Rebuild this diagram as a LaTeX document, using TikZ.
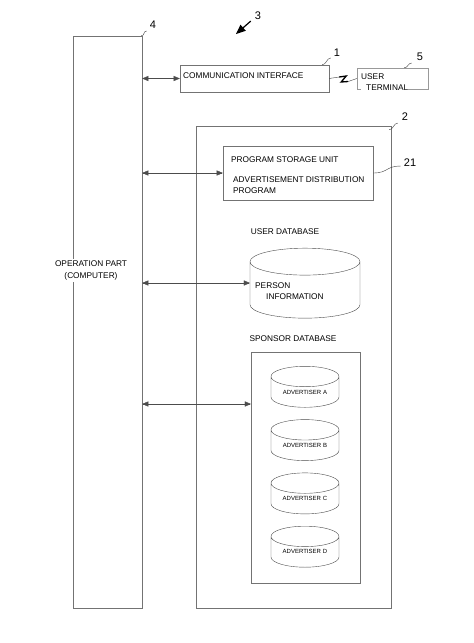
\documentclass[tikz,border=0pt]{standalone}
\usepackage{fontspec}
\setmainfont{Liberation Sans}
\usetikzlibrary{shapes,arrows,calc,positioning}
\tikzset{box/.style={rectangle,draw=black!55,thin,inner sep=0pt},
lbl/.style={inner sep=0pt, font=\fontsize{8.3}{11}\selectfont},
small/.style={inner sep=0pt, font=\fontsize{6}{7}\selectfont},
num/.style={inner sep=0pt, font=\fontsize{11}{11}\selectfont},
db/.style={cylinder,shape border rotate=90,draw=black!70,thin,inner sep=0pt,align=center},
link/.style={<->,draw=black!70,thin},
leadline/.style={draw=black!75,thin},
>={triangle 45}}
\newcommand{\leader}[2]{
\draw [leadline] #1 .. controls +(4,0) and +(-4,0) .. #2;
}

\begin{document}
\begin{tikzpicture}[x=1pt,y=-1pt]
  \useasboundingbox (0,0) rectangle (474,643);

  % operation part
  \node (op) [box,minimum width=69pt,minimum height=572pt] at (107.5,322) {};
  \node (optext) [lbl,fill=white,align=center,inner sep=1pt,font=\fontsize{8.3}{12.5}\selectfont] at (91,270.5) {OPERATION PART\\(COMPUTER)};

  % communication interface and terminal
  \node (ci) [box,minimum width=149pt,minimum height=27pt] at (254.5,78.5) {};
  \node (citext) [lbl,anchor=west] at (183,75.5) {COMMUNICATION INTERFACE};
  \node (ut) [box,draw=black!40,minimum width=71pt,minimum height=21pt] at (392.5,78.5) {};
  \node (uttext) [lbl,fill=white,align=left,anchor=west] at (361,82.5) {USER\\\hspace*{5pt}TERMINAL};

  % storage part
  \node (sys) [box,minimum width=195pt,minimum height=482pt] at (293.5,367) {};
  \node (psu) [box,minimum width=150pt,minimum height=54pt] at (298,173) {};
  \node (psutitle) [lbl,anchor=west] at (231,160) {PROGRAM STORAGE UNIT};
  \node (adprog) [lbl,anchor=west,align=left] at (233,185.5) {ADVERTISEMENT DISTRIBUTION\\PROGRAM};

  \node (udbtext) [lbl] at (285,232) {USER DATABASE};
  \node (udb) [db,text width=110pt,aspect=0.245,minimum height=70pt] at (305,290) {};
  \node (pinfo) [lbl,anchor=west,align=left] at (255,291.5) {PERSON\\\hspace*{11pt}INFORMATION};

  \node (sdbtext) [lbl] at (293,339) {SPONSOR DATABASE};
  \node (sdb) [box,minimum width=109pt,minimum height=231pt] at (305.5,467.5) {};
  \foreach \adv [count=\i from 0] in {A,B,C,D}
    \node (adv\adv) [db,small,text width=68pt,aspect=0.3,minimum height=41pt] at (305,392+53.3*\i) {ADVERTISER \adv};

  % connections
  \coordinate (udbin) at (250,283);
  \coordinate (sdbin) at (251,404);
  \draw [link] (op.east |- ci.west) -- (ci.west);
  \draw [link] (op.east |- psu.west) -- (psu.west);
  \draw [link] (op.east |- udbin) -- (udbin);
  \draw [link] (op.east |- sdbin) -- (sdbin);

  \draw [leadline] (ci.east) -- ++(10,-1.5) coordinate (bolta);
  \draw [line width=1.3pt] (bolta) -- ++(7,-1) -- ++(-5,6) -- ++(7,-0.5) coordinate (boltb);
  \draw [leadline] (boltb) -- (ut.west);

  % reference numerals
  \node (n3) [num] at (258,16) {3};
  \coordinate (sys3) at (236,34);
  \draw [->,line width=1.2pt] ($(n3.south west)+(-4,1)$) -- (sys3);
  \node (n4) [num] at (153,25) {4};
  \leader{($(op.north east)+(-1,0)$)}{($(n4.south west)+(-3,2)$)}
  \node (n1) [num] at (337,53) {1};
  \leader{($(ci.north east)+(-7,0)$)}{($(n1.south west)+(-3,1)$)}
  \node (n5) [num] at (420,57) {5};
  \leader{($(ut.north east)+(-24,0)$)}{($(n5.south west)+(-5,2)$)}
  \node (n2) [num] at (405,117) {2};
  \leader{($(sys.north east)+(-2,4)$)}{($(n2.south west)+(-4,2)$)}
  \node (n21) [num] at (410,163) {21};
  \draw [leadline] (psu.east) .. controls +(15,0) and +(-15,0) .. ($(n21.south west)+(-3,-1)$);
\end{tikzpicture}
\end{document}
